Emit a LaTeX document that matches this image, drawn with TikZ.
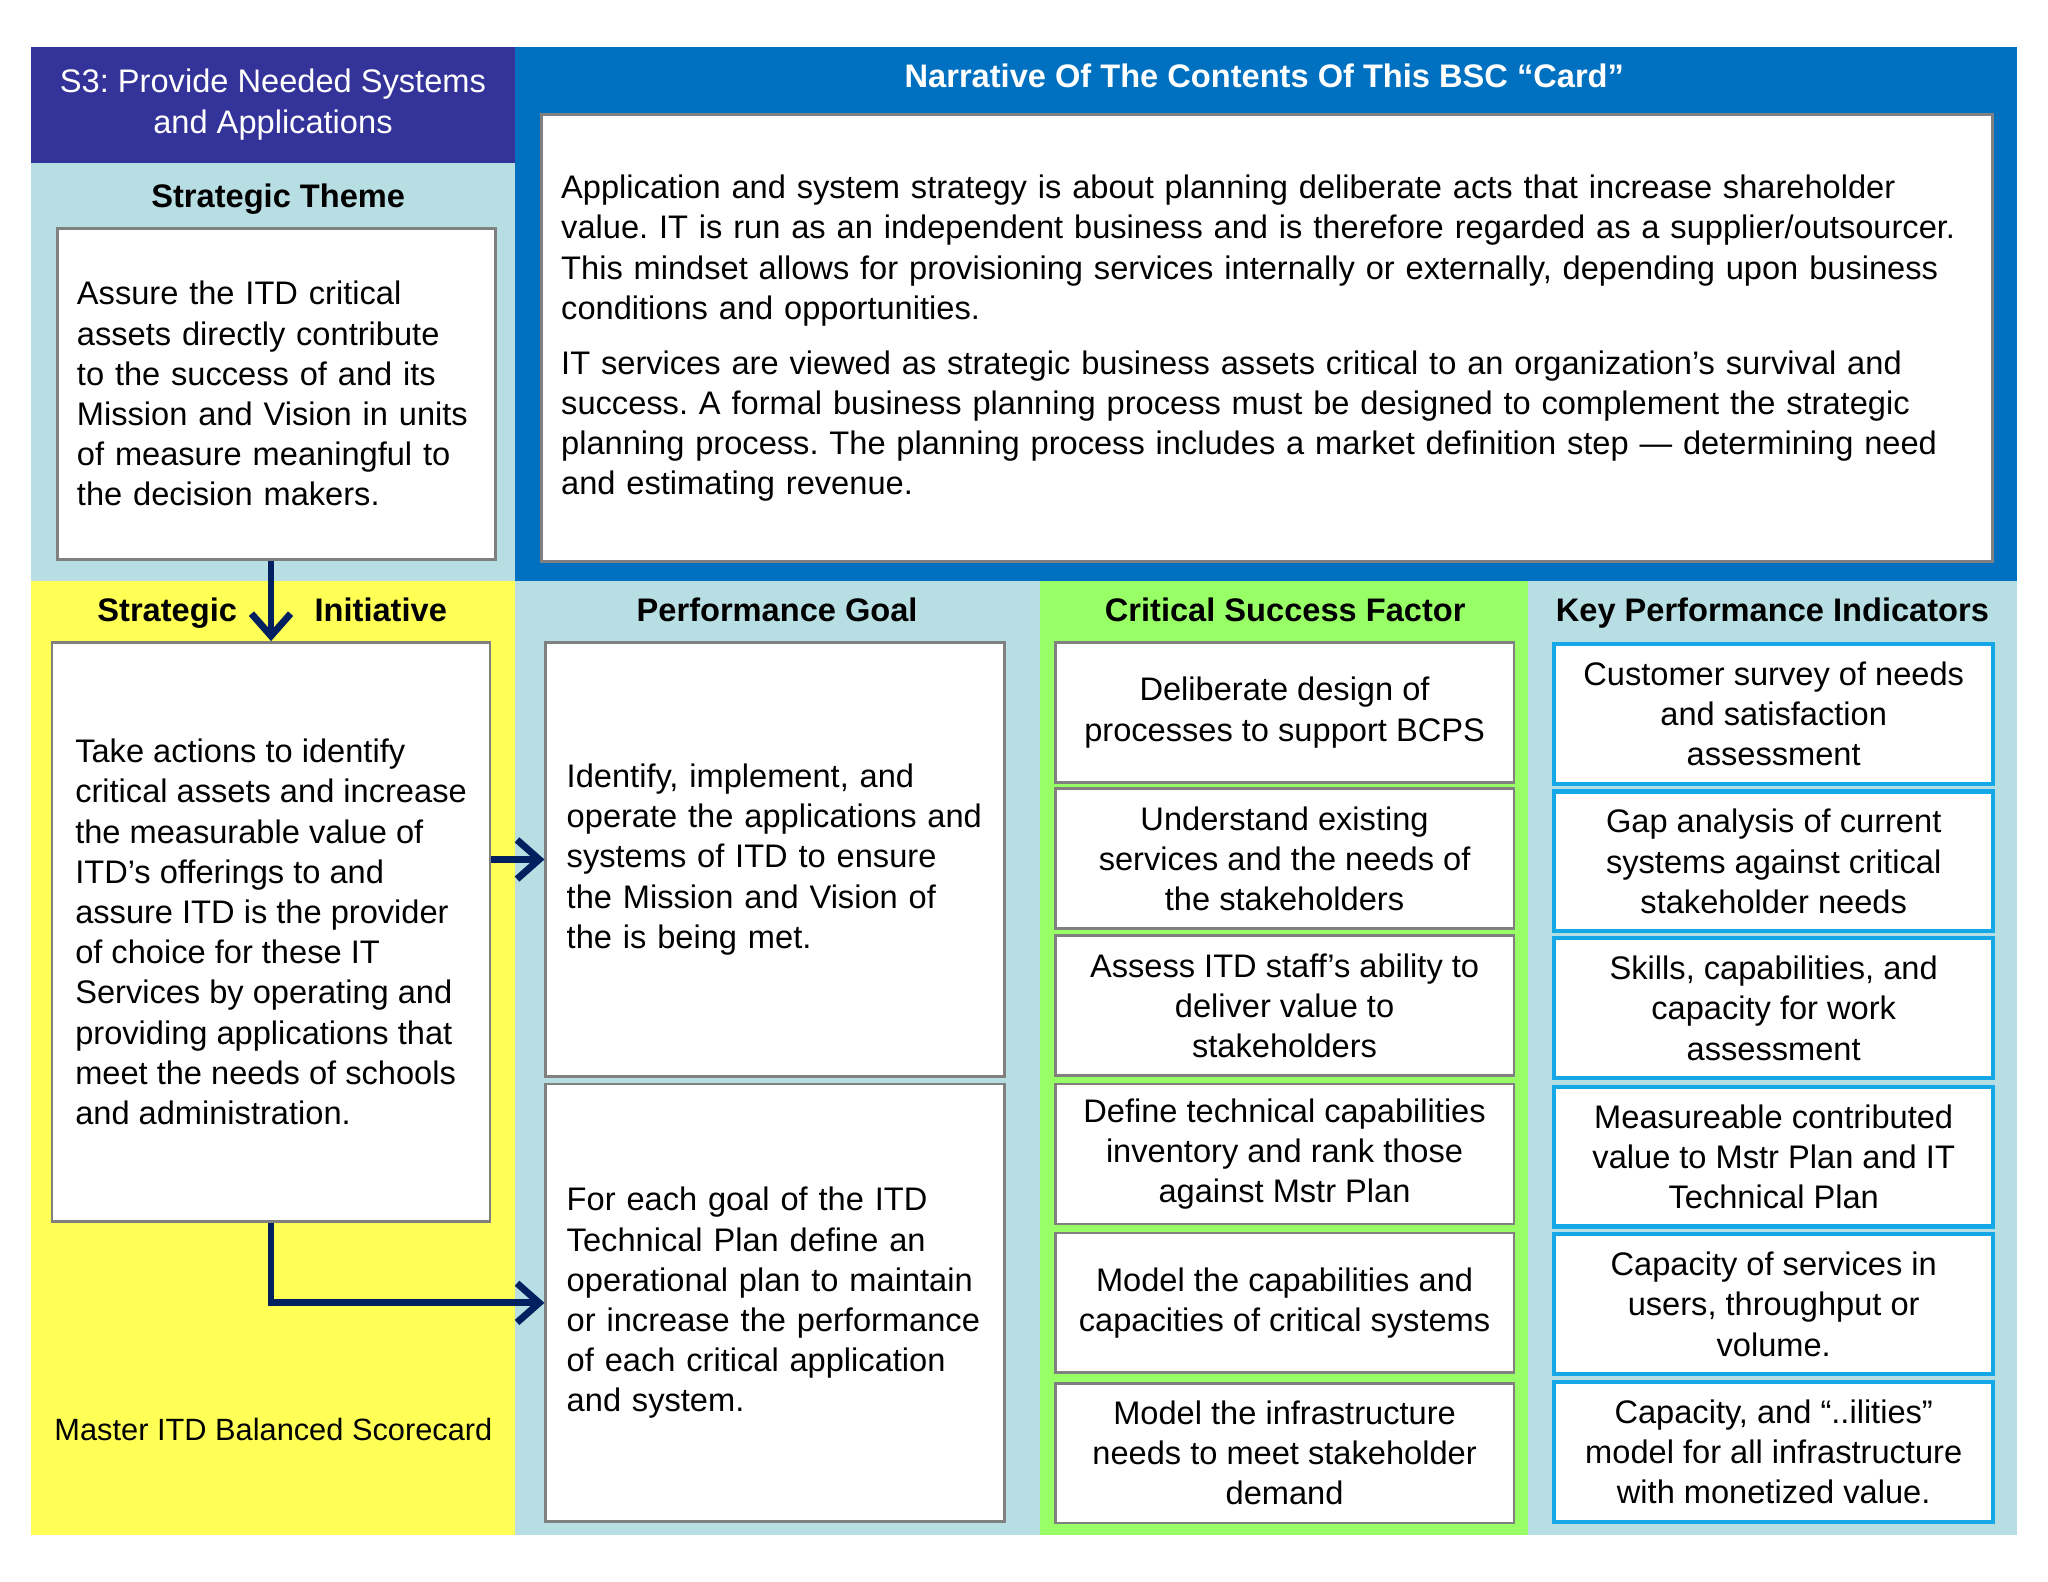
\documentclass[tikz,border=0pt]{standalone}
\usepackage{fontspec}
\setmainfont{Liberation Sans}
\usetikzlibrary{arrows.meta}

\definecolor{hdrblue}{RGB}{51,51,153}
\definecolor{narrblue}{RGB}{0,112,192}
\definecolor{paleteal}{RGB}{183,222,227}
\definecolor{cardyellow}{RGB}{255,255,85}
\definecolor{cardgreen}{RGB}{153,255,102}
\definecolor{arrownavy}{RGB}{0,32,96}
\definecolor{kpiblue}{RGB}{20,168,230}
\definecolor{boxgray}{RGB}{128,128,128}
\frenchspacing
\hyphenpenalty=10000
\exhyphenpenalty=10000

\begin{document}
\begin{tikzpicture}[x=0.01cm,y=-0.01cm,
  every node/.style={font=\fontsize{7.1}{8.75}\selectfont, inner sep=0pt},
  head/.style={anchor=base, font=\bfseries\fontsize{7.1}{8.75}\selectfont},
  card/.style={draw=boxgray, line width=0.6pt, fill=white},
  textcard/.style={card, inner xsep=0.15cm, align=left},
  csf/.style={card, minimum width=3.51cm, minimum height=1.07cm, align=center},
  kpi/.style={draw=kpiblue, line width=0.9pt, fill=white, minimum width=3.36cm, minimum height=1.07cm, align=center},
  flow/.style={draw=arrownavy, line width=1.5pt, -{Straight Barb[length=1.7mm,width=3mm]}}]
\useasboundingbox (0,0) rectangle (1568,1211);

  % panels
  \fill[hdrblue] (24,36) rectangle (394,125);
  \fill[paleteal] (24,125) rectangle (394,445);
  \fill[narrblue] (394,36) rectangle (1544,445);
  \fill[cardyellow] (24,445) rectangle (394,1175);
  \fill[paleteal] (394,445) rectangle (796,1175);
  \fill[cardgreen] (796,445) rectangle (1170,1175);
  \fill[paleteal] (1170,445) rectangle (1544,1175);

  \node[text=white, align=center, font=\fontsize{7.1}{9.1}\selectfont] (s3) at (209,80) {S3: Provide Needed Systems\\and Applications};
  \node[head] (themehd) at (213,159) {Strategic Theme};
  \node[head, text=white] (narrhd) at (968,67) {Narrative Of The Contents Of This BSC “Card”};
  \node[head] (sihdl) at (128,476) {Strategic};
  \node[head] (sihdr) at (291.5,476) {Initiative};
  \node[head] (pghd) at (595,476) {Performance Goal};
  \node[head] (csfhd) at (984,476) {Critical Success Factor};
  \node[head] (kpihd) at (1357,476) {Key Performance Indicators};

  \node[textcard, minimum width=3.35cm, minimum height=2.53cm, text width=3.05cm] (theme) at (211.5,301.5)
    {Assure the ITD critical\\assets directly contribute\\to the success of and its\\Mission and Vision in units\\of measure meaningful to\\the decision makers.};

  \node[textcard, minimum width=11.1cm, minimum height=3.42cm, text width=10.8cm] (narr) at (970,259)
    {Application and system strategy is about planning deliberate acts that increase shareholder\\
     value. IT is run as an independent business and is therefore regarded as a supplier/outsourcer.\\
     This mindset allows for provisioning services internally or externally, depending upon business\\
     conditions and opportunities.\\[3.2pt]
     IT services are viewed as strategic business assets critical to an organization’s survival and\\
     success. A formal business planning process must be designed to complement the strategic\\
     planning process. The planning process includes a market definition step — determining need\\
     and estimating revenue.};

  \node[card, minimum width=3.35cm, minimum height=4.43cm, align=left] (si) at (207.5,713.5)
    {Take actions to identify\\critical assets and increase\\the measurable value of\\ITD’s offerings to and\\assure ITD is the provider\\of choice for these IT\\Services by operating and\\providing applications that\\meet the needs of schools\\and administration.};
  \node[anchor=base west, font=\fontsize{6.7}{8}\selectfont] (master) at (41,1103) {Master ITD Balanced Scorecard};

  \node[textcard, minimum width=3.51cm, minimum height=3.32cm, text width=3.19cm, inner xsep=0.16cm] (pg1) at (593.5,658)
    {Identify, implement, and\\operate the applications and\\systems of ITD to ensure\\the Mission and Vision of\\the is being met.};
  \node[textcard, minimum width=3.51cm, minimum height=3.35cm, text width=3.19cm, inner xsep=0.16cm] (pg2) at (593.5,997.5)
    {For each goal of the ITD\\Technical Plan define an\\operational plan to maintain\\or increase the performance\\of each critical application\\and system.};

  \node[csf] (csf1) at (983.5,545.5) {Deliberate design of\\processes to support BCPS};
  \node[csf] (csf2) at (983.5,657.5) {Understand existing\\services and the needs of\\the stakeholders};
  \node[csf] (csf3) at (983.5,770) {Assess ITD staff’s ability to\\deliver value to\\stakeholders};
  \node[csf] (csf4) at (983.5,883.5) {Define technical capabilities\\inventory and rank those\\against Mstr Plan};
  \node[csf] (csf5) at (983.5,997.5) {Model the capabilities and\\capacities of critical systems};
  \node[csf] (csf6) at (983.5,1112.5) {Model the infrastructure\\needs to meet stakeholder\\demand};

  \node[kpi] (kpi1) at (1358,546.5) {Customer survey of needs\\and satisfaction\\assessment};
  \node[kpi] (kpi2) at (1358,659.5) {Gap analysis of current\\systems against critical\\stakeholder needs};
  \node[kpi] (kpi3) at (1358,772) {Skills, capabilities, and\\capacity for work\\assessment};
  \node[kpi] (kpi4) at (1358,885.5) {Measureable contributed\\value to Mstr Plan and IT\\Technical Plan};
  \node[kpi] (kpi5) at (1358,998.5) {Capacity of services in\\users, throughput or\\volume.};
  \node[kpi] (kpi6) at (1358,1111.5) {Capacity, and “..ilities”\\model for all infrastructure\\with monetized value.};

  \draw[flow] (si.north |- theme.south) -- (si.north);
  \draw[flow] (si.east |- pg1.west) -- (pg1.west);
  \draw[flow] (si.south) |- (pg2.west);
\end{tikzpicture}
\end{document}
